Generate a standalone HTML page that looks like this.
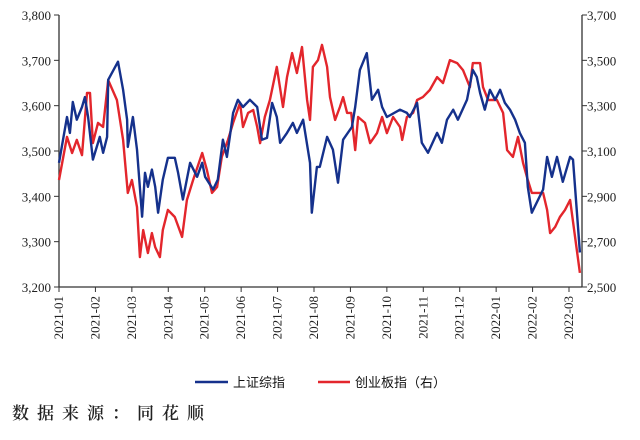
<!DOCTYPE html>
<html><head><meta charset="utf-8"><style>
body{margin:0;background:#fff;width:640px;height:440px;overflow:hidden}
svg{display:block}
.tk{font-family:"Liberation Serif",serif;font-size:13px;fill:#222}
.lg{font-family:"Liberation Sans","Noto Sans CJK SC",sans-serif;font-size:13px;fill:#111}
</style></head><body>
<svg id="c" width="640" height="440">
<text x="12" y="419" style="font-family:'Liberation Serif','Noto Serif CJK SC',serif;font-size:17px;letter-spacing:8px;font-weight:600;fill:#222">数据来源：同花顺</text>
</svg>
<script>
const monthLabels=["2021-01","2021-02","2021-03","2021-04","2021-05","2021-06","2021-07","2021-08","2021-09","2021-10","2021-11","2021-12","2022-01","2022-02","2022-03"];
const leftTicks=[3200,3300,3400,3500,3600,3700,3800];
const rightTicks=[2500,2700,2900,3100,3300,3500,3700];
const blueT=[0,.22,.30,.38,.49,.63,.71,.80,.93,1.12,1.21,1.32,1.35,1.62,1.76,1.87,1.89,2.03,2.14,2.28,2.36,2.44,2.55,2.64,2.72,2.85,2.99,3.18,3.27,3.40,3.60,3.79,3.93,4.01,4.23,4.36,4.50,4.61,4.69,4.78,4.91,5.05,5.24,5.44,5.57,5.71,5.85,5.98,6.07,6.26,6.42,6.53,6.70,6.89,6.94,7.08,7.16,7.36,7.52,7.66,7.80,8.04,8.13,8.26,8.45,8.59,8.76,8.87,9.00,9.36,9.55,9.63,9.83,9.96,10.13,10.38,10.51,10.65,10.82,10.95,11.20,11.36,11.47,11.56,11.69,11.83,11.97,12.11,12.24,12.38,12.52,12.65,12.79,12.87,12.98,13.29,13.40,13.53,13.67,13.83,14.03,14.11,14.30];
const blueV=[3474,3575,3540,3608,3569,3597,3619,3575,3481,3531,3496,3531,3657,3697,3635,3569,3509,3575,3503,3355,3452,3421,3459,3421,3364,3437,3485,3485,3452,3393,3474,3443,3474,3443,3415,3437,3525,3487,3531,3584,3613,3597,3613,3597,3525,3529,3606,3575,3518,3540,3562,3540,3569,3474,3364,3465,3465,3531,3503,3430,3525,3553,3597,3679,3716,3613,3635,3597,3575,3591,3584,3575,3606,3518,3496,3540,3518,3569,3591,3569,3613,3679,3663,3628,3591,3635,3613,3635,3606,3591,3569,3540,3518,3421,3364,3415,3487,3443,3487,3432,3487,3481,3276];
const redT=[0,.22,.36,.49,.63,.77,.85,.93,1.07,1.21,1.35,1.59,1.76,1.89,2.00,2.14,2.22,2.31,2.44,2.55,2.64,2.77,2.85,2.99,3.18,3.38,3.51,3.68,3.93,4.06,4.20,4.34,4.47,4.64,4.78,4.97,5.05,5.19,5.33,5.44,5.52,5.65,5.79,5.98,6.15,6.26,6.40,6.53,6.67,6.81,6.89,6.97,7.11,7.22,7.36,7.44,7.58,7.71,7.80,7.91,8.02,8.13,8.21,8.40,8.54,8.73,8.87,9.00,9.17,9.36,9.42,9.55,9.72,9.83,9.99,10.18,10.38,10.54,10.73,10.93,11.09,11.28,11.36,11.56,11.64,11.78,12.02,12.19,12.30,12.46,12.60,12.74,12.87,12.98,13.29,13.40,13.48,13.62,13.75,13.89,14.03,14.30];
const redV=[2972,3162,3091,3149,3082,3356,3356,3135,3224,3206,3413,3325,3149,2915,2972,2853,2632,2751,2650,2738,2676,2632,2751,2840,2809,2721,2884,2972,3091,3016,2915,2941,3074,3149,3224,3312,3206,3268,3281,3206,3135,3250,3325,3471,3294,3426,3532,3444,3559,3325,3237,3471,3501,3568,3471,3338,3237,3294,3338,3268,3268,3104,3250,3224,3135,3179,3250,3179,3250,3206,3149,3250,3268,3325,3338,3369,3426,3400,3501,3488,3457,3382,3488,3488,3382,3325,3325,3268,3104,3074,3162,3047,2972,2915,2915,2840,2738,2765,2809,2840,2884,2562];
const NS="http://www.w3.org/2000/svg";
const svg=document.getElementById('c');
const X0=59,X1=569,Y0=15,Y1=287,XR=582;
const xs=t=>X0+t*(X1-X0)/14;
const yL=v=>Y1-(v-3200)/600*(Y1-Y0);
const yR=v=>Y1-(v-2500)/1200*(Y1-Y0);
function mk(tag,at){const e=document.createElementNS(NS,tag);for(const k in at)e.setAttribute(k,at[k]);svg.appendChild(e);return e;}
let e;
e=mk('line',{x1:X0,y1:Y0,x2:X0,y2:Y1,stroke:'#333','stroke-width':1.3});


e=mk('line',{x1:XR,y1:Y0,x2:XR,y2:Y1,stroke:'#333','stroke-width':1.3});


e=mk('line',{x1:X0,y1:Y1,x2:XR,y2:Y1,stroke:'#333','stroke-width':1.3});


leftTicks.forEach(v=>{
 mk('line',{x1:X0-5,y1:yL(v),x2:X0,y2:yL(v),stroke:'#333'});
 e=mk('text',{x:X0-8,y:yL(v)+5,'text-anchor':'end',class:'tk'});e.textContent=v.toLocaleString('en-US');
 
 
});
rightTicks.forEach(v=>{
 mk('line',{x1:XR,y1:yR(v),x2:XR+5,y2:yR(v),stroke:'#333'});
 e=mk('text',{x:XR+5,y:yR(v)+5,class:'tk'});e.textContent=v.toLocaleString('en-US');
 
 
});
monthLabels.forEach((m,i)=>{
 const x=xs(i);
 mk('line',{x1:x,y1:Y1,x2:x,y2:Y1+5,stroke:'#333'});
 e=mk('text',{x:0,y:0,'text-anchor':'end',class:'tk',transform:`translate(${x+4},${Y1+9}) rotate(-90)`});e.textContent=m;
 
 
});
function path(T,V,f,c,n){
 const d=T.map((t,i)=>(i?'L':'M')+xs(t).toFixed(1)+','+f(V[i]).toFixed(1)).join('');
 const p=mk('path',{d,fill:'none',stroke:c,'stroke-width':2.4,'stroke-linejoin':'round'});
 
 
}
path(redT,redV,yR,'#e3262c','chinext-line');
path(blueT,blueV,yL,'#15318c','sse-composite-line');
e=mk('line',{x1:195,y1:382,x2:228,y2:382,stroke:'#15318c','stroke-width':2.6});


e=mk('text',{x:233,y:387,class:'lg'});e.textContent='上证综指';


e=mk('line',{x1:318,y1:382,x2:350,y2:382,stroke:'#e3262c','stroke-width':2.6});


e=mk('text',{x:355,y:387,class:'lg'});e.textContent='创业板指（右）';


</script>
</body></html>
